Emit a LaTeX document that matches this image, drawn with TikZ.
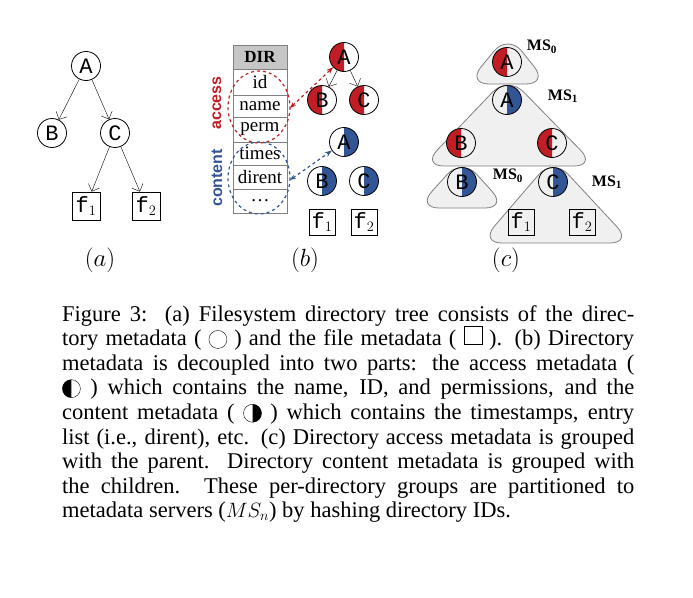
\documentclass[tikz,border=0pt]{standalone}
\usepackage{fontspec}
\setmainfont{Liberation Serif}
\setmonofont{Liberation Mono}
\newfontfamily\sansbf{Liberation Sans}
\usetikzlibrary{arrows.meta}
\definecolor{accred}{RGB}{192,30,36}
\definecolor{conblue}{RGB}{50,85,150}
\newcommand{\halfl}{\tikz[baseline=-0.6ex]{\fill (0,0) -- (0,0.4em) arc (90:270:0.4em) -- cycle;\draw (0,0) circle (0.4em);}}
\newcommand{\halfr}{\tikz[baseline=-0.6ex]{\fill (0,0) -- (0,0.4em) arc (90:-90:0.4em) -- cycle;\draw (0,0) circle (0.4em);}}
\begin{document}
\begin{tikzpicture}[x=1pt,y=-1pt,
  dnode/.style={circle,draw,thick,minimum size=29pt,inner sep=0pt,font=\ttfamily\fontsize{22}{22}\selectfont},
  fnode/.style={draw,thick,minimum size=28pt,inner sep=0pt,font=\ttfamily\fontsize{22}{22}\selectfont},
  cell/.style={draw=gray,minimum width=54pt,inner sep=0pt,font=\fontsize{19}{19}\selectfont},
  group/.style={draw=gray,fill=gray!12,rounded corners=22pt,thick},
  ms/.style={font=\bfseries\fontsize{16}{16}\selectfont},
  lab/.style={font=\fontsize{24}{24}\selectfont},
  arr/.style={-{Straight Barb[length=6pt]}}]
\useasboundingbox (0,0) rectangle (693,597);
% half-filled node: #1 name, #2 pos, #3 side (l/r), #4 colour, #5 text
\newcommand{\hnode}[5]{%
  \begin{scope}
  \ifx l#3\clip (#2) ++(-16,-16) rectangle ++(16,32);\else
  \clip (#2) ++(0,-16) rectangle ++(16,32);\fi
  \fill[#4] (#2) circle (14.5);
  \end{scope}
  \node[dnode] (#1) at (#2) {#5};}
% (a)
\node[dnode] (aA) at (86,66) {A};
\node[dnode] (aB) at (52,133) {B};
\node[dnode] (aC) at (115,133) {C};
\node[fnode] (af1) at (86,206) {f$_1$};
\node[fnode] (af2) at (146,206) {f$_2$};
\draw[arr] (aA) -- (aB); \draw[arr] (aA) -- (aC);
\draw[arr] (aC) -- (af1); \draw[arr] (aC) -- (af2);
\node[lab] at (100,260) {$(a)$};
% (b) table
\node[cell,fill=gray!45,minimum height=24pt,font=\bfseries\fontsize{17}{17}\selectfont] (hd) at (260,57) {DIR};
\node[cell,minimum height=26pt] (id) at (260,82) {id};
\node[cell,minimum height=22pt] (nm) at (260,106) {name};
\node[cell,minimum height=25pt] (pm) at (260,129.5) {perm};
\node[cell,minimum height=23pt] (tm) at (260,153.5) {times};
\node[cell,minimum height=24pt] (dr) at (260,177) {dirent};
\node[cell,minimum height=24pt] (dt) at (260,201) {\dots};
\draw[accred,very thick,dashed] (259,107) ellipse (31 and 36);
\draw[conblue,very thick,dashed] (259,178) ellipse (31 and 36);
\node[rotate=90,text=accred,font=\sansbf\bfseries\fontsize{16}{16}\selectfont] at (217,103) {access};
\node[rotate=90,text=conblue,font=\sansbf\bfseries\fontsize{16}{16}\selectfont] at (217,178) {content};
\hnode{bA}{344,57}{l}{accred}{A}
\hnode{bB}{322,100}{l}{accred}{B}
\hnode{bC}{364,100}{l}{accred}{C}
\hnode{bA2}{344,142}{r}{conblue}{A}
\hnode{bB2}{322,181}{r}{conblue}{B}
\hnode{bC2}{364,181}{r}{conblue}{C}
\node[fnode,minimum size=26pt] (bf1) at (322,222) {f$_1$};
\node[fnode,minimum size=26pt] (bf2) at (364,222) {f$_2$};
\draw[arr] (bA) -- (bB); \draw[arr] (bA) -- (bC);
\coordinate (ra) at (290,108);
\coordinate (ba) at (290,180);
\draw[accred,very thick,dashed,{Stealth[length=6pt]}-{Stealth[length=7pt]}] (ra) -- (bA);
\draw[conblue,very thick,dashed,{Stealth[length=6pt]}-{Stealth[length=7pt]}] (ba) -- (bA2);
\node[lab] at (305,260) {$(b)$};
% (c)
\draw[group] (508,34) -- (548,84) -- (467,84) -- cycle;
\draw[group] (508,76) -- (596,166) -- (422,166) -- cycle;
\draw[group] (462,158) -- (507,208) -- (417,208) -- cycle;
\draw[group] (553,158) -- (632,243) -- (480,243) -- cycle;
\hnode{cA}{507,62}{l}{accred}{A}
\hnode{cA2}{507,100}{r}{conblue}{A}
\hnode{cB}{461,143}{l}{accred}{B}
\hnode{cC}{552,143}{l}{accred}{C}
\hnode{cB2}{462,182}{r}{conblue}{B}
\hnode{cC2}{553,182}{r}{conblue}{C}
\node[fnode,minimum size=26pt] (cf1) at (521,222) {f$_1$};
\node[fnode,minimum size=26pt] (cf2) at (582,222) {f$_2$};
\node[ms] at (542,47) {MS\textsubscript{0}};
\node[ms] at (563,96) {MS\textsubscript{1}};
\node[ms] at (508,176) {MS\textsubscript{0}};
\node[ms] at (607,182) {MS\textsubscript{1}};
\node[lab] at (506,260) {$(c)$};
% caption
\node[anchor=north west,text width=572pt,inner sep=0pt,align=justify,
  font=\fontsize{22.5}{24.6}\selectfont] (cap) at (62,305) {%
Figure 3:\ \ (a) Filesystem directory tree consists of the direc-\linebreak
tory metadata ( \tikz[baseline=-0.6ex]\draw (0,0) circle (0.4em); ) and the file metadata ( \tikz[baseline=-0.1ex]\draw (0,0) rectangle (0.8em,0.8em); ). (b) Directory\linebreak
metadata is decoupled into two parts: the access metadata (\linebreak
\halfl\ ) which contains the name, ID, and permissions, and the\linebreak
content metadata ( \halfr\ ) which contains the timestamps, entry\linebreak
list (i.e., dirent), etc. (c) Directory access metadata is grouped\linebreak
with the parent. Directory content metadata is grouped with\linebreak
the children. These per-directory groups are partitioned to\linebreak
metadata servers ($MS_n$) by hashing directory IDs.};
\end{tikzpicture}
\end{document}
